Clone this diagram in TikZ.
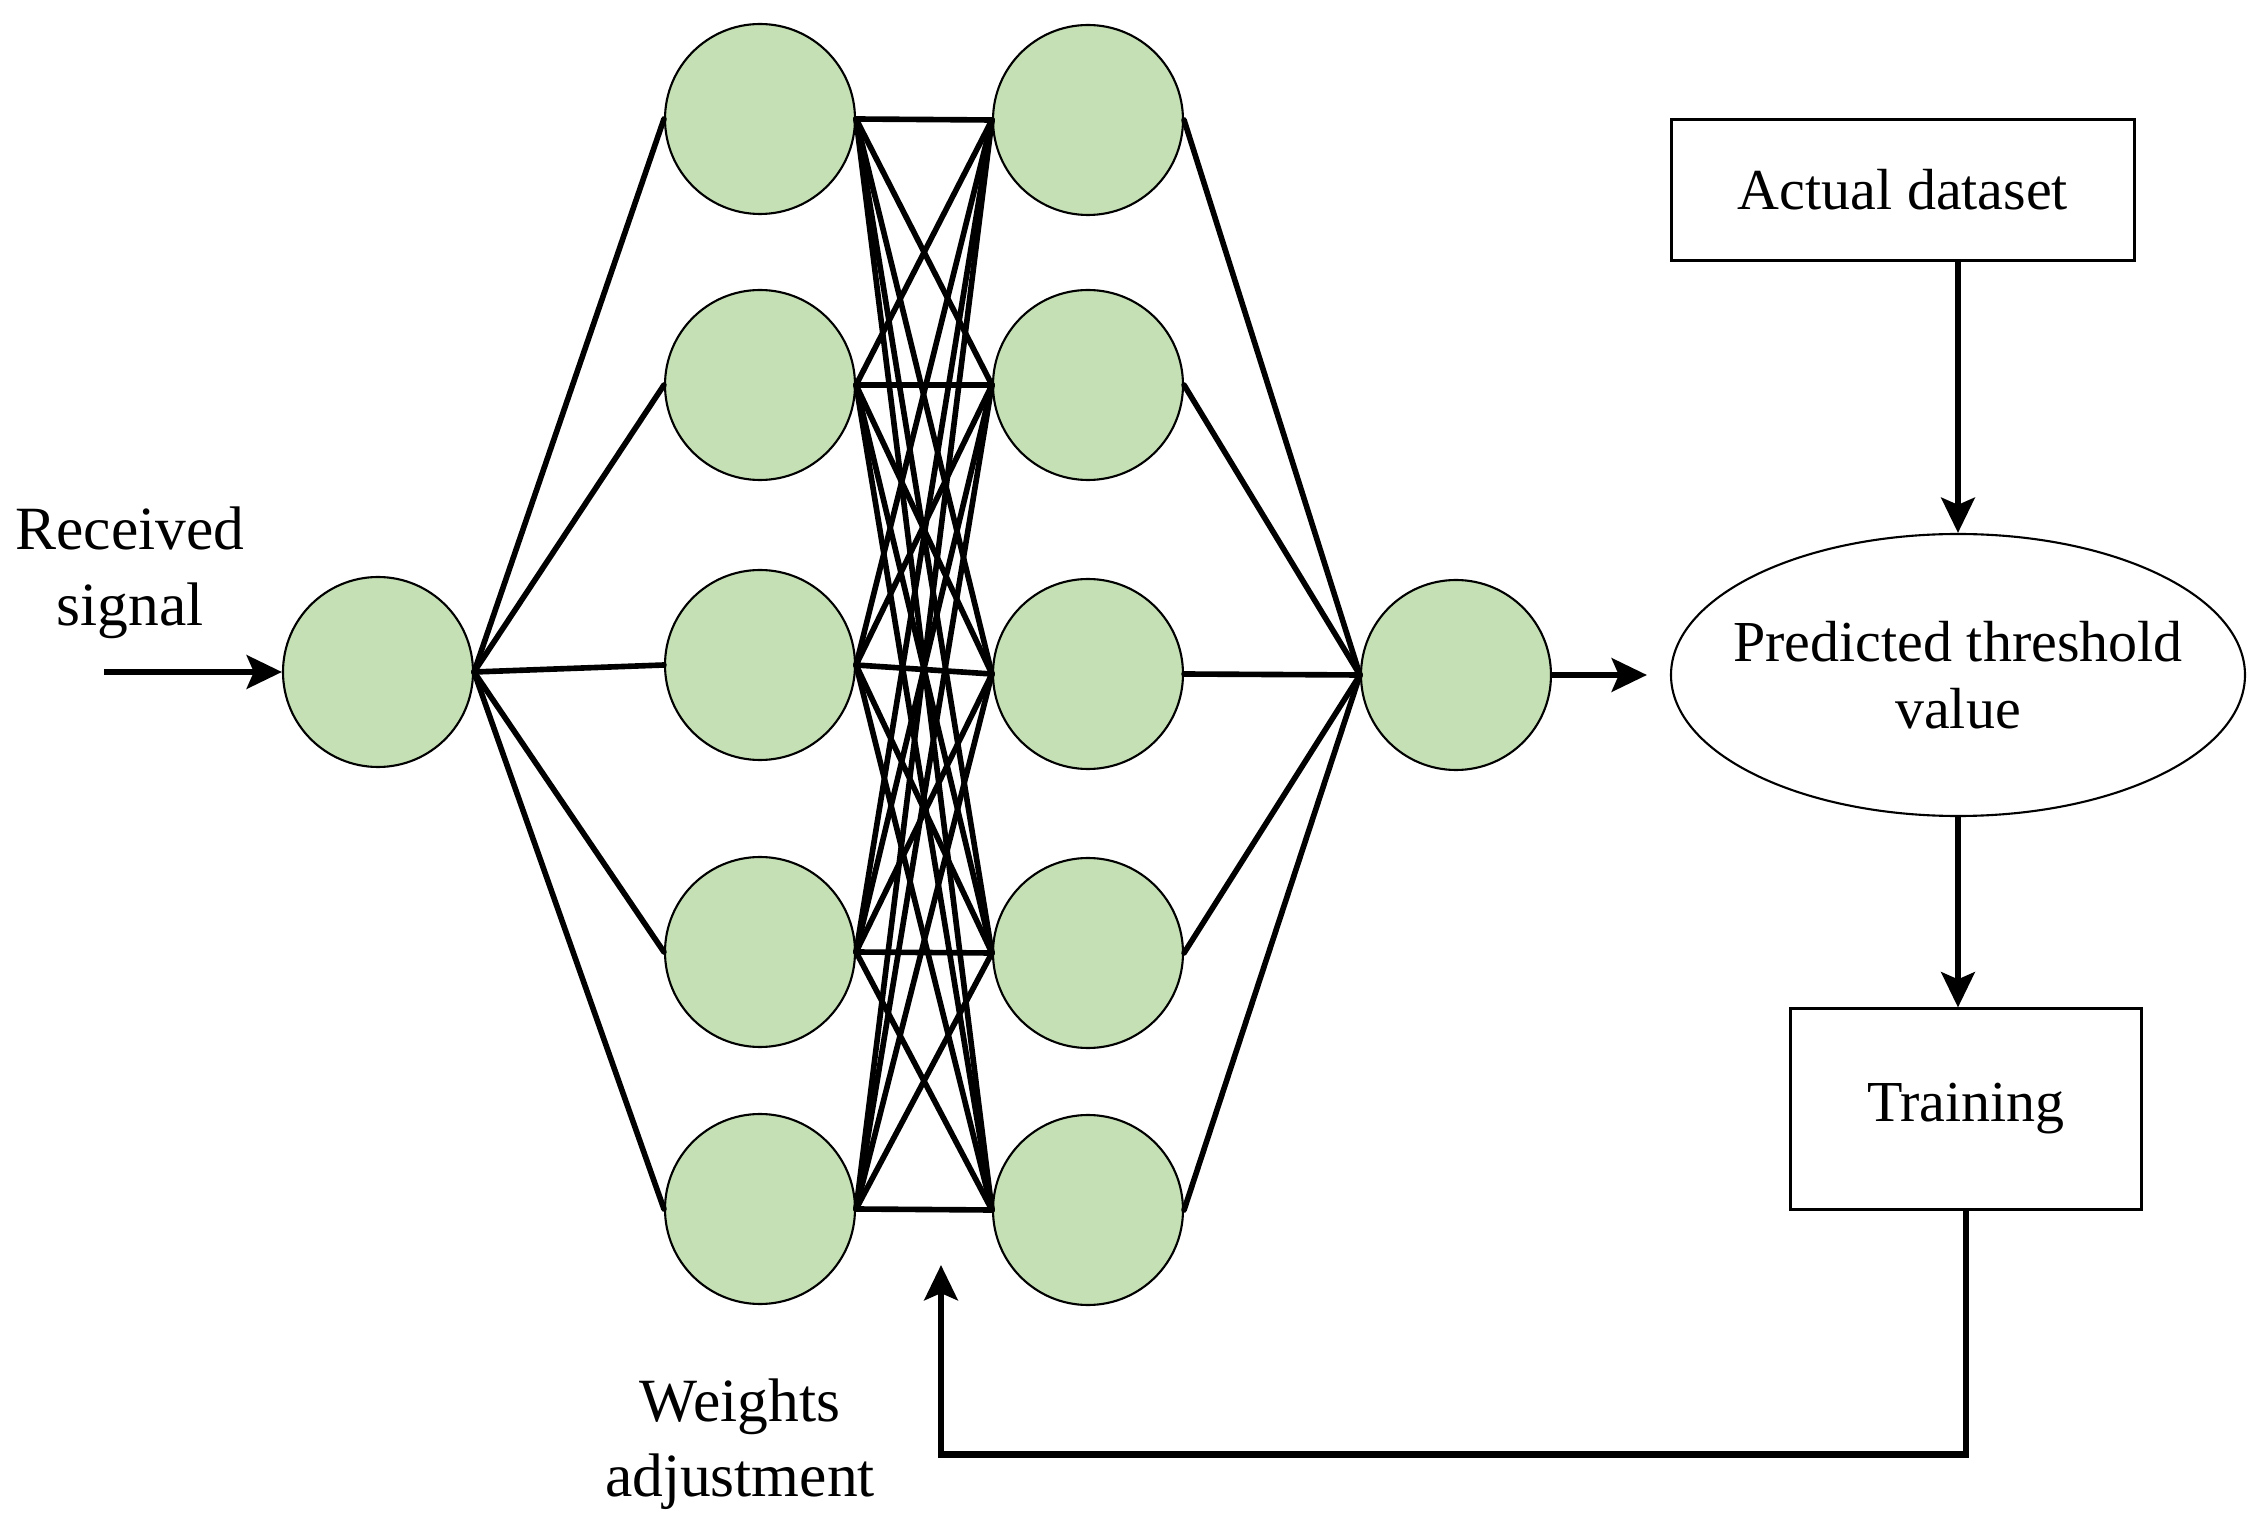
\documentclass[tikz,border=0pt]{standalone}
\usepackage{fontspec}
\setmainfont{Liberation Serif}
\usetikzlibrary{arrows.meta,shapes.geometric}
\definecolor{neurongreen}{HTML}{C5E0B4}

\begin{document}
\begin{tikzpicture}[
	neuron/.style={circle,draw,line width=0.6pt,fill=neurongreen,minimum size=1.9cm,inner sep=0pt},
	link/.style={line width=1.6pt,line cap=round},
	arr/.style={line width=1.8pt,-{Stealth[length=10pt,width=9.5pt,inset=2pt]}},
	box/.style={draw,line width=0.6pt,inner sep=0pt,font=\fontsize{16.5}{20}\selectfont},
	font=\fontsize{17.5}{21.5}\selectfont]
	\useasboundingbox (0,0) rectangle (22.62,-15.39);
	% neurons
	\node[neuron] (inp) at (3.78,-6.72) {};
	\foreach \i/\y in {1/1.19,2/3.85,3/6.65,4/9.52,5/12.09}
		\node[neuron] (a\i) at (7.60,-\y) {};
	\foreach \i/\y in {1/1.20,2/3.85,3/6.74,4/9.53,5/12.10}
		\node[neuron] (b\i) at (10.88,-\y) {};
	\node[neuron] (out) at (14.56,-6.75) {};
	% weights
	\foreach \i in {1,...,5} {
		\draw[link] (inp.east) -- (a\i.west);
		\draw[link] (b\i.east) -- (out.west);
		\foreach \j in {1,...,5}
			\draw[link] (a\i.east) -- (b\j.west);
	}
	% input and output
	\coordinate (src) at (1.04,-6.72);
	\draw[arr] (src) -- (inp);
	\node[align=center] (rx) at (1.30,-5.73) {Received\\signal};
	\node[ellipse,draw,line width=0.6pt,minimum width=5.74cm,minimum height=2.82cm,inner xsep=-0.4cm,inner ysep=0pt,
		align=center,font=\fontsize{16.5}{19}\selectfont] (pred) at (19.58,-6.75) {Predicted threshold\\value};
	\draw[arr,shorten >=0.23cm] (out.east) -- (pred.west);
	% training loop
	\node[box,minimum width=4.63cm,minimum height=1.41cm] (data) at (19.03,-1.90) {Actual dataset};
	\node[box,minimum width=3.51cm,minimum height=2.01cm] (train) at (19.66,-11.09) {Training};
	\draw[arr] (data.south -| pred) -- (pred.north);
	\draw[arr] (pred.south) -- (pred.south |- train.north);
	\coordinate (fb) at (9.41,-12.65);
	\draw[arr] (train.south) -- ++(0,-2.44) -| (fb);
	\node[align=center] (wadj) at (7.40,-14.44) {Weights\\adjustment};
\end{tikzpicture}
\end{document}
